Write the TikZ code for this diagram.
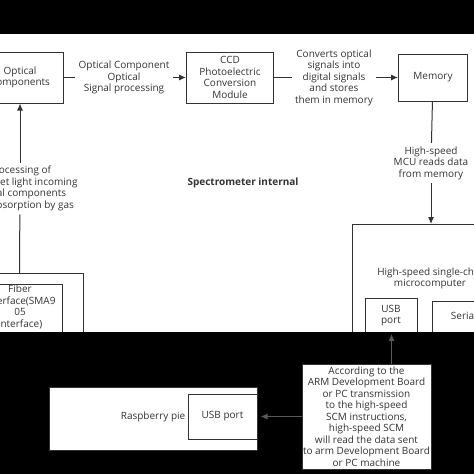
\documentclass[tikz,border=0pt]{standalone}
\usepackage{fontspec}
\setmainfont{Open Sans}
\usetikzlibrary{positioning, arrows.meta}

\begin{document}
\begin{tikzpicture}[x=1pt, y=-1pt,
    every node/.style={font=\fontsize{10}{11.5}\selectfont, text=black!80, align=center},
    box/.style={draw=black!80, line width=1pt, inner sep=1pt},
    link/.style={draw=black!80, line width=1pt},
    dimlink/.style={draw=black!65, line width=1pt},
    arrowed/.style={-{Latex[length=7pt, width=6pt]}}]
    \useasboundingbox (0,0) rectangle (474,474);

    % spectrometer internal
    \node[box, minimum width=87, minimum height=51] (optical) at (20,77.5) {Optical\\Components};
    \node[box, minimum width=87, minimum height=51, right=122pt of optical] (ccd) {CCD\\Photoelectric\\Conversion\\Module};
    \node[box, minimum width=69, minimum height=47, right=124pt of ccd] (memory) {Memory};

    \node (lbl_oc) at (124,77.5) {Optical Component\\Optical\\Signal processing};
    \node (lbl_cm) at (334,77.5) {Converts optical\\signals into\\digital signals\\and stores\\them in memory};
    \node (lbl_mm) at (431,163) {High-speed\\MCU reads data\\from memory};

    \node[box, anchor=north west, minimum width=156, minimum height=140] (mcu) at (352,224) {};
    \node (mcu_lbl) at (430,278.5) {High-speed single-chip\\microcomputer};
    \node[box, anchor=north west, minimum width=52, minimum height=35] (usb) at (365,298) {};
    \node (usb_lbl) at (391,315.5) {USB\\port};
    \node[box, anchor=north west, minimum width=92, minimum height=32] (serial) at (432,301) {};
    \node (serial_lbl) at (475,317) {Serial port};

    % fiber input
    \node[box, anchor=north east, minimum width=128, minimum height=80] (fiber_out) at (84,273) {};
    \node[box, anchor=north east, minimum width=86, minimum height=60] (fiber) at (63,284) {};
    \node (fiber_lbl) at (20,307) {Fiber\\Interface(SMA9\\05\\Interface)};
    \node (lbl_abs) at (20,188.5) {Processing of\\ultraviolet light incoming\\optical components\\after absorption by gas};

    \node[font=\bfseries\fontsize{10}{11.5}\selectfont] (internal) at (243,183) {Spectrometer internal};

    \draw[link] (fiber_out.north) -- (lbl_abs);
    \draw[link, arrowed] (lbl_abs) -- (optical);
    \draw[link] (optical) -- (lbl_oc);
    \draw[link, arrowed] (lbl_oc) -- (ccd);
    \draw[link] (ccd) -- (lbl_cm);
    \draw[link, arrowed] (lbl_cm) -- (memory);
    \draw[link] (memory) -- (lbl_mm);
    \draw[link, arrowed] (lbl_mm) -- (lbl_mm |- mcu.north);

    % black bands
    \fill[black] (0,0) rectangle (474,34);
    \fill[black] (0,332) rectangle (474,474);

    % outside
    \node[box, fill=white, minimum width=208, minimum height=63] (rpi) at (153,419) {};
    \node[box, fill=white, minimum width=69, minimum height=45] (rpi_usb) at (222.5,416.5) {USB port};
    \node[left=1pt of rpi_usb, inner sep=1pt] (rpi_lbl) {Raspberry pie};
    \node[box, fill=white, minimum width=129, minimum height=105] (arm) at (366.5,416.5) {According to the\\ARM Development Board\\or PC transmission\\to the high-speed\\SCM instructions,\\high-speed SCM\\will read the data sent\\to arm Development Board\\or PC machine};

    \draw[dimlink, arrowed, shorten >=3pt] (arm) -- (rpi_usb);
    \draw[dimlink, arrowed] (arm.north -| usb) -- (usb.south);
\end{tikzpicture}
\end{document}
